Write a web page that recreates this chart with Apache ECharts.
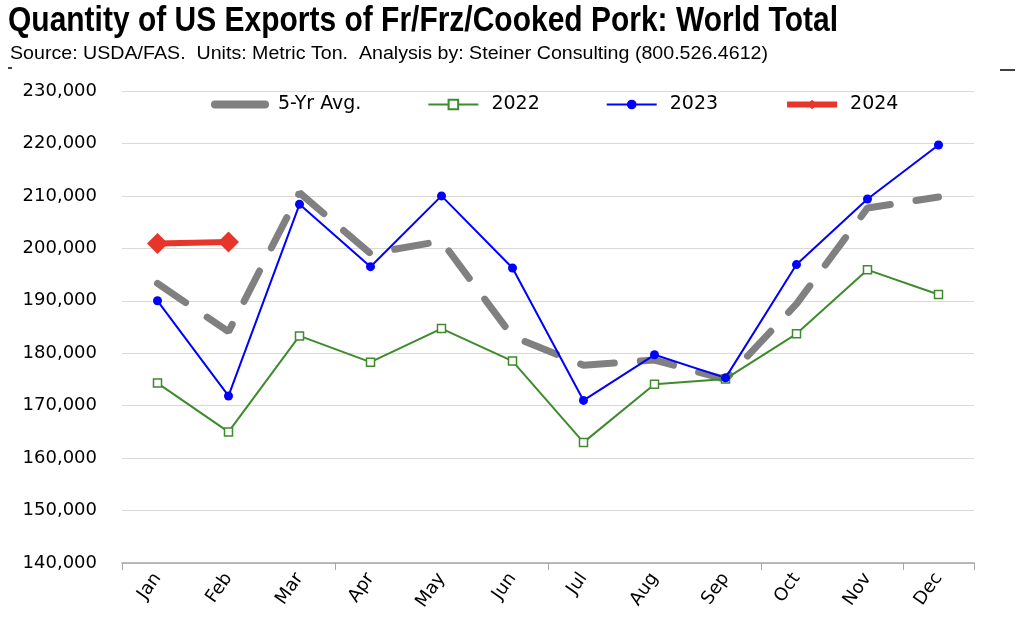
<!DOCTYPE html>
<html>
<head>
<meta charset="utf-8">
<script src="https://cdn.jsdelivr.net/npm/echarts@6/dist/echarts.min.js"></script>
<style>
  html, body { margin: 0; padding: 0; background: #fff; }
  #chart { width: 1024px; height: 634px; }
</style>
</head>
<body>
<div id="chart"></div>
<script>
var months = ['Jan', 'Feb', 'Mar', 'Apr', 'May', 'Jun', 'Jul', 'Aug', 'Sep', 'Oct', 'Nov', 'Dec']
var avg5yr = [193300, 184100, 210600, 199000, 201400, 183200, 177700, 178700, 175000, 189400, 207700, 209800]
var y2022 = [174300, 165000, 183300, 178300, 184700, 178500, 163000, 174100, 175100, 183700, 195900, 191200]
var y2023 = [190000, 171850, 208400, 196500, 210000, 196250, 171000, 179700, 175300, 196900, 209400, 219700]
var y2024 = [200900, 201200]

var titleText = 'Quantity of US Exports of Fr/Frz/Cooked Pork: World Total'
var subText = 'Source: USDA/FAS.  Units: Metric Ton.  Analysis by: Steiner Consulting (800.526.4612)'

var axisFont = 'DejaVu Sans'
var titleFont = 'bold 35px "Liberation Sans"'
var subFont = '18px "Liberation Sans"'

// squeeze the Arial-like text so it takes the width of the narrower original font
var measure = document.createElement('canvas').getContext('2d')
function textWidth(font, s) {
    measure.font = font
    return measure.measureText(s).width
}
var titleScale = 830 / textWidth(titleFont, titleText)
var subScale = 758 / textWidth(subFont, subText)

var chart = echarts.init(document.getElementById('chart'))
chart.setOption({
    backgroundColor: '#fff',
    animation: false,
    legend: {
        left: 206,
        top: 90,
        itemWidth: 50,
        itemHeight: 12,
        itemGap: 66,
        lineStyle: { width: 'inherit' },
        textStyle: {
            fontFamily: axisFont,
            fontSize: 19,
            color: '#000',
            padding: [0, 0, 0, 8]
        },
        data: [
            // no marker on the average's key, just a thick solid bar
            { name: '5-Yr Avg.', itemStyle: { opacity: 0 }, lineStyle: { type: 'solid', width: 8, cap: 'round' } },
            { name: '2022' },
            { name: '2023' },
            { name: '2024' }
        ]
    },
    grid: {
        left: 122,
        right: 50,
        top: 91,
        bottom: 71,
        containLabel: false
    },
    xAxis: {
        type: 'category',
        data: months,
        boundaryGap: true,
        axisLine: { lineStyle: { color: '#a6a6a6', width: 1.5 } },
        axisTick: { show: true, interval: 2, length: 7, lineStyle: { color: '#a6a6a6' } },
        axisLabel: {
            interval: 0,
            rotate: 55,
            margin: 12,
            fontFamily: axisFont,
            fontSize: 18,
            color: '#000'
        }
    },
    yAxis: {
        type: 'value',
        min: 140000,
        max: 230000,
        interval: 10000,
        axisLine: { show: false },
        axisTick: { show: false },
        splitLine: { lineStyle: { color: '#d9d9d9', width: 1 } },
        axisLabel: {
            margin: 25,
            fontFamily: axisFont,
            fontSize: 18,
            color: '#000',
            formatter: function (v) { return v.toLocaleString('en-US') }
        }
    },
    series: [
        {
            name: '5-Yr Avg.',
            type: 'line',
            data: avg5yr,
            symbol: 'none',
            color: '#808080',
            lineStyle: { color: '#808080', width: 7, type: [34, 26], cap: 'round' }
        },
        {
            name: '2022',
            type: 'line',
            data: y2022,
            symbol: 'rect',
            symbolSize: 8,
            color: '#3d8b2b',
            itemStyle: { color: '#fff', borderColor: '#3d8b2b', borderWidth: 1.5 },
            lineStyle: { color: '#3d8b2b', width: 2 }
        },
        {
            name: '2023',
            type: 'line',
            data: y2023,
            symbol: 'circle',
            symbolSize: 9,
            color: '#0000ff',
            itemStyle: { color: '#0000ff' },
            lineStyle: { color: '#0000ff', width: 2 }
        },
        {
            name: '2024',
            type: 'line',
            data: y2024,
            symbol: 'diamond',
            symbolSize: 21,
            color: '#e8352b',
            itemStyle: { color: '#e8352b' },
            lineStyle: { color: '#e8352b', width: 6 }
        }
    ],
    graphic: [
        {
            type: 'text', x: 8, y: 4, scaleX: titleScale, z: 100,
            style: { text: titleText, font: titleFont, fill: '#000', verticalAlign: 'top' }
        },
        {
            type: 'text', x: 10, y: 45, scaleX: subScale, z: 100,
            style: { text: subText, font: subFont, fill: '#000', verticalAlign: 'top' }
        },
        { type: 'rect', x: 0, y: 65, shape: { width: 1024, height: 8 }, style: { fill: '#fff' }, z: 101 },
        { type: 'line', shape: { x1: 8, y1: 68, x2: 12, y2: 68 }, style: { stroke: '#000', lineWidth: 1.5 }, z: 102 },
        { type: 'line', shape: { x1: 1000, y1: 70, x2: 1015, y2: 70 }, style: { stroke: '#000', lineWidth: 1.5 }, z: 102 }
    ]
})
</script>
</body>
</html>
